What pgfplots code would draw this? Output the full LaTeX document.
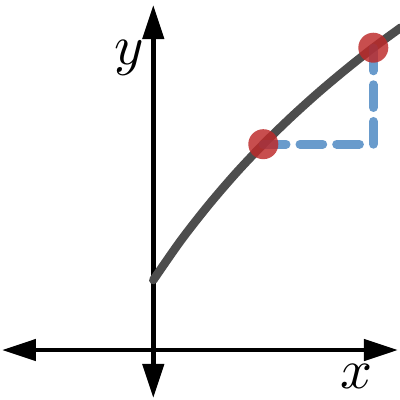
\documentclass[border=0pt]{standalone}
\usepackage{graphicx}
\usepackage{pgfplots}
\pgfplotsset{compat=1.18}
\usetikzlibrary{arrows.meta}
\definecolor{curvegray}{RGB}{77,77,77}
\definecolor{dotred}{RGB}{189,42,42}
\definecolor{dashblue}{RGB}{42,112,182}
\begin{document}
\begin{tikzpicture}
\begin{axis}[
  width=400pt, height=400pt, scale only axis,
  xmin=-1.3936, xmax=2.2427, ymin=-0.4545, ymax=3.1818,
  hide axis, clip=true,
]
% axes
\addplot[black, line width=4.5pt, {Triangle[length=34pt,width=21pt]}-{Triangle[length=34pt,width=21pt]}]
  coordinates {(-1.3755,0) (2.2245,0)};
\addplot[black, line width=4.5pt, {Triangle[length=34pt,width=21pt]}-{Triangle[length=34pt,width=21pt]}]
  coordinates {(0,-0.436) (0,3.136)};
% curve
\addplot[curvegray, line width=8.5pt, line cap=round, smooth] coordinates {
  (0,0.636) (0.25,0.995) (0.5,1.315) (0.75,1.606) (1.0,1.871)
  (1.25,2.114) (1.5,2.340) (1.75,2.550) (2.0,2.748) (2.25,2.931)
};
% slope triangle
\addplot[dashblue, opacity=0.7, line width=9pt, line cap=round, dash pattern=on 22.7pt off 14pt]
  coordinates {(1,1.871) (2,1.871)};
\addplot[dashblue, opacity=0.7, line width=9pt, line cap=round, dash pattern=on 22.7pt off 14pt]
  coordinates {(2,1.871) (2,2.748)};
% points
\addplot[dotred, only marks, mark=*, mark size=15pt,
  mark options={solid, line width=0pt, draw opacity=0, fill=dotred, fill opacity=0.83}]
  coordinates {(1,1.871) (2,2.748)};
% labels
\node[inner sep=0pt] at (axis cs:-0.2218,2.6545) {\scalebox{5.6}{$y$}};
\node[inner sep=0pt] at (axis cs:1.851,-0.236) {\scalebox{5.6}{$x$}};
\end{axis}
\pgfresetboundingbox
\path (current axis.south west) rectangle (current axis.north east);
\end{tikzpicture}
\end{document}
